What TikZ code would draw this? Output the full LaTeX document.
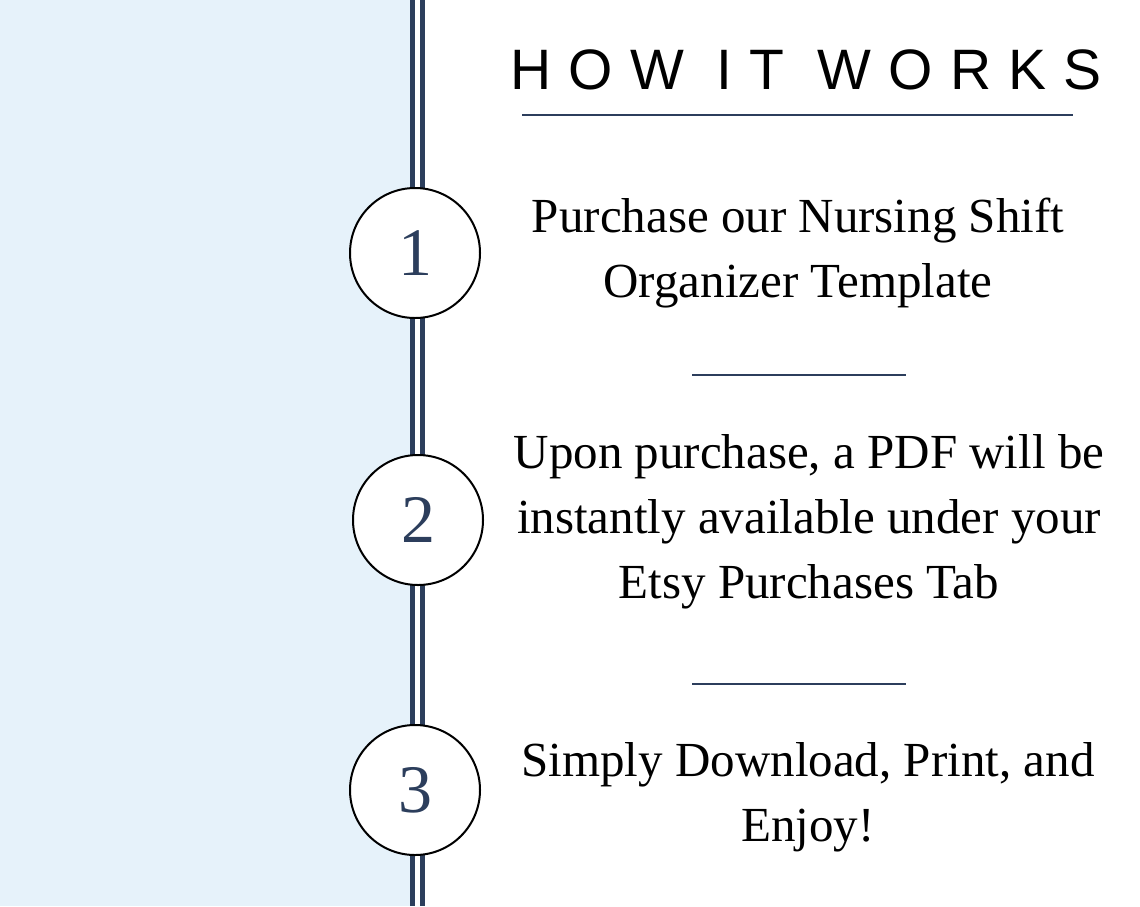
\documentclass[tikz,border=0pt]{standalone}
\usepackage{fontspec}
\setmainfont{Liberation Serif}
\newfontfamily\titlefont[LetterSpace=30]{Liberation Sans}
\definecolor{navy}{HTML}{2C3E5C}
\definecolor{pale}{HTML}{E6F2FA}
\begin{document}
\begin{tikzpicture}[x=1pt,y=-1pt,
  num/.style={circle,draw=black,line width=2pt,fill=white,minimum size=130pt,inner sep=0pt,font=\fontsize{68}{68}\selectfont,text=navy},
  steptext/.style={align=center,font=\fontsize{49}{65}\selectfont,text=black},
  rule/.style={navy,line width=2.5pt}]
\useasboundingbox (0,0) rectangle (1140,906);
\fill[pale] (0,0) rectangle (410,906);
\fill[navy] (410,0) rectangle (415,906);
\fill[navy] (420,0) rectangle (425,906);
\node[num] (c1) at (415,253) {1};
\node[num] (c2) at (418,520) {2};
\node[num] (c3) at (415,790) {3};
\node[font=\titlefont\fontsize{57}{57}\selectfont] (t) at (806,70) {HOW IT WORKS};
\draw[rule] (522,115) -- (1073,115);
\node[steptext] (s1) at (798,253) {Purchase our Nursing Shift\\Organizer Template};
\draw[rule] (692,375) -- (906,375);
\node[steptext] (s2) at (809,522) {Upon purchase, a PDF will be\\instantly available under your\\Etsy Purchases Tab};
\draw[rule] (692,684) -- (906,684);
\node[steptext] (s3) at (808,797) {Simply Download, Print, and\\Enjoy!};
\end{tikzpicture}
\end{document}
